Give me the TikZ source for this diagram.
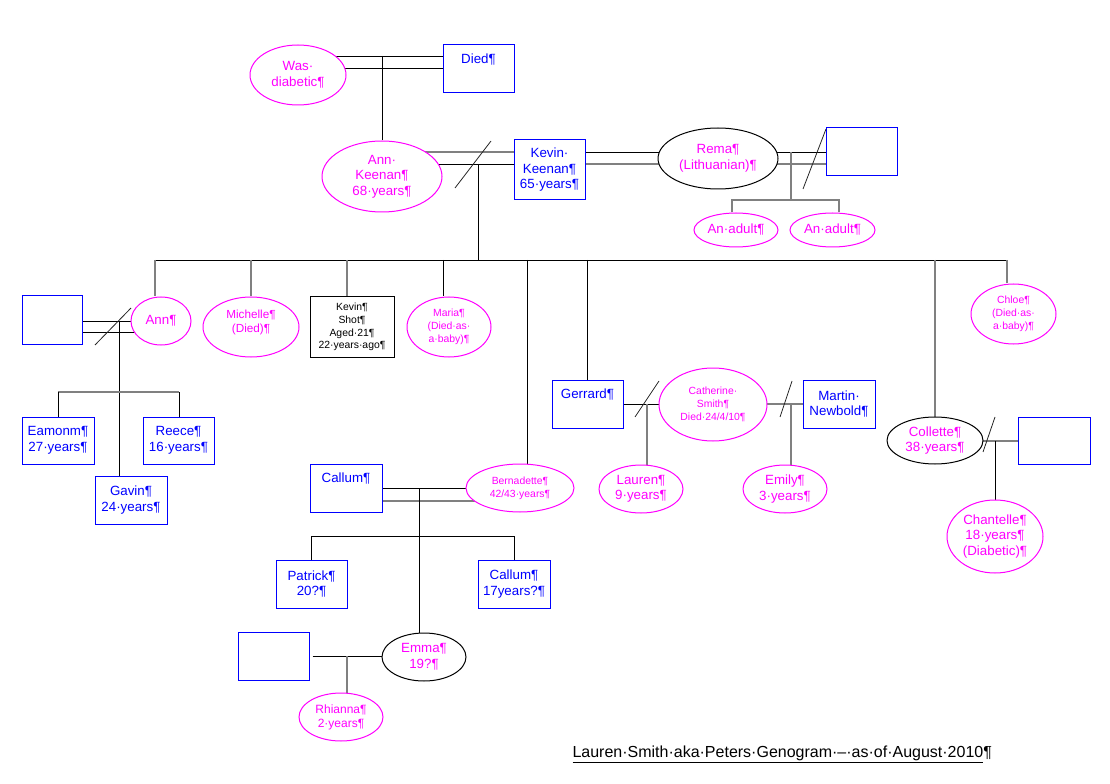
\documentclass[tikz,border=0pt]{standalone}
\usepackage{fontspec}
\setmainfont{Liberation Sans}
\usetikzlibrary{shapes.geometric,calc}
\definecolor{mag}{RGB}{255,0,255}
\definecolor{blu}{RGB}{0,0,255}
\definecolor{gln}{RGB}{128,128,128}
\pgfdeclarelayer{bg}
\pgfsetlayers{bg,main}
\newcommand{\gmf}{\fontsize{10}{11.6}\selectfont}
\newcommand{\gsf}{\fontsize{7.8}{9.6}\selectfont}
\newcommand{\grf}{\fontsize{9}{10.5}\selectfont}
\newcommand{\gmi}{\fontsize{8.8}{10.4}\selectfont}
\tikzset{
  fem/.style 2 args={ellipse, draw=mag, fill=white, text=mag, minimum width=#1*0.75pt, minimum height=#2*0.75pt, inner sep=0pt, align=center, font=\gmf},
  femk/.style 2 args={ellipse, draw=black, fill=white, text=mag, minimum width=#1*0.75pt, minimum height=#2*0.75pt, inner sep=0pt, align=center, font=\gmf},
  male/.style 2 args={rectangle, draw=blu, fill=white, text=blu, minimum width=#1*0.75pt, minimum height=#2*0.75pt, inner sep=0pt, align=center, font=\gmf},
  blkbox/.style 2 args={rectangle, draw=black, fill=white, text=black, minimum width=#1*0.75pt, minimum height=#2*0.75pt, inner sep=0pt, align=center, font=\gsf},
  gry/.style={draw=gln, line width=1.5pt},
  sl/.style={draw=black!85, line width=0.6pt},
  toplbl/.style={anchor=north, text=blu, font=\gmf, yshift=-3pt}
}
\begin{document}
\begin{tikzpicture}[x=0.75pt,y=-0.75pt,line width=0.75pt]
\useasboundingbox (0,0) rectangle (1110,784);

% nodes
\node[fem={96}{60}] (wd) at (298,75) {Was·\\diabetic¶};
\node[male={71}{48}, label={[toplbl]north:Died¶}] (died) at (478.5,69) {};
\node[fem={120}{71}] (ak) at (382,176.5) {Ann·\\Keenan¶\\68·years¶};
\node[male={71}{60}] (kk) at (549.5,170) {Kevin·\\Keenan¶\\65·years¶};
\node[femk={120}{61}] (rema) at (718,158.5) {Rema¶\\(Lithuanian)¶};
\node[male={71}{48}] (rbox) at (861.5,152) {};
\node[fem={84}{34}] (ad1) at (736,230) {An·adult¶};
\node[fem={85}{34}] (ad2) at (832.5,230) {An·adult¶};

\node[male={60}{48}] (lbox) at (52,320) {};
\node[fem={60}{48}] (ann) at (161,321) {Ann¶};
\node[fem={96}{60}, label={[text=mag, font=\gmi, align=center, yshift=3.5pt]center:Michelle¶\\(Died)¶}] (mich) at (251,327) {};
\node[blkbox={84}{60}] (kev) at (352,327) {Kevin¶\\Shot¶\\Aged·21¶\\22·years·ago¶};
\node[fem={84}{60}, font=\gsf] (maria) at (449,327) {Maria¶\\(Died·as·\\a·baby)¶};
\node[fem={85}{60}, font=\gsf] (chloe) at (1013.5,314) {Chloe¶\\(Died·as·\\a·baby)¶};

\node[male={72}{47}] (eam) at (58,440.5) {Eamonm¶\\27·years¶};
\node[male={71}{47}] (reece) at (178.5,440.5) {Reece¶\\16·years¶};
\node[male={72}{48}] (gavin) at (131,500) {Gavin¶\\24·years¶};

\node[male={71}{48}, label={[toplbl]north:Gerrard¶}] (ger) at (587.5,404) {};
\node[fem={108}{73}, font=\gsf] (cath) at (713,404.5) {Catherine·\\Smith¶\\Died·24/4/10¶};
\node[male={72}{48}] (mart) at (839,404) {Martin·\\Newbold¶};
\node[fem={84}{48}] (laur) at (641,489) {Lauren¶\\9·years¶};
\node[fem={84}{48}] (emily) at (785,489) {Emily¶\\3·years¶};

\node[femk={96}{47}] (coll) at (935,440.5) {Collette¶\\38·years¶};
\node[male={72}{47}] (cbox) at (1054.5,440.5) {};
\node[fem={96}{73}] (chan) at (995,536.5) {Chantelle¶\\18·years¶\\(Diabetic)¶};

\node[male={72}{48}, label={[toplbl]north:Callum¶}] (cal) at (346,488) {};
\node[fem={108}{48}, font=\gsf] (bern) at (520,488) {Bernadette¶\\42/43·years¶};
\node[male={71}{48}] (pat) at (311.5,584) {Patrick¶\\20?¶};
\node[male={72}{48}] (cal2) at (514,584) {Callum¶\\17years?¶};
\node[femk={84}{48}] (emma) at (424,657) {Emma¶\\19?¶};
\node[male={71}{48}] (ebox) at (273.5,656) {};
\node[fem={84}{48}, font=\grf] (rhi) at (341,717) {Rhianna¶\\2·years¶};

\node[anchor=base west, inner sep=0pt, font=\fontsize{12}{14}\selectfont] (title) at (572,757) {\underline{Lauren·Smith·aka·Peters·Genogram·–·as·of·August·2010}¶};

\coordinate (sib) at (478,260);

\begin{pgfonlayer}{bg}
% grandparents
\draw (wd.center |- 0,56) -- (died.west |- 0,56);
\draw (wd.center |- 0,68) -- (died.west |- 0,68);
\draw (ak.north |- 0,56) -- (ak.north);
% Ann Keenan - Kevin Keenan
\draw[gry] (ak.center |- 0,152) -- (kk.west |- 0,152);
\draw (ak.center |- 0,164) -- (kk.west |- 0,164);
\draw (sib |- 0,164) -- (sib);
% Kevin - Rema - partner
\draw (kk.east |- 0,152) -- (rema.center |- 0,152);
\draw[gry] (kk.east |- 0,164) -- (rema.center |- 0,164);
\draw (rema.center |- 0,152) -- (rbox.west |- 0,152);
\draw[gry] (rema.center |- 0,164) -- (rbox.west |- 0,164);
\draw[gry] (791,152) -- (791,200);
\draw[gry] (ad1.north -| 732,0) -- (732,200) -- (839,200) -- (ad2.north -| 839,0);
% sibling line
\draw (155,260) -- (1007,260);
\draw[gry] (155,260) -- (ann.north -| 155,0);
\draw[gry] (251,260) -- (mich.north);
\draw[gry] (347,260) -- (kev.north -| 347,0);
\draw (443,260) -- (maria.north -| 443,0);
\draw (527,260) -- (bern.north -| 527,0);
\draw (587,260) -- (ger.north -| 587,0);
\draw[gry] (935,260) -- (coll.north);
\draw[gry] (1007,260) -- (chloe.north -| 1007,0);
% Ann's family
\draw (lbox.east |- 0,321) -- (ann.center |- 0,321);
\draw (lbox.east |- 0,332) -- (ann.center |- 0,332);
\draw (119,321) -- (gavin.north -| 119,0);
\draw[gry] (58,392) -- (179,392);
\draw (eam.north |- 0,392) -- (eam.north);
\draw (179,392) -- (reece.north -| 179,0);
% Gerrard - Catherine - Martin
\draw (ger.east) -- (cath.center |- ger.east);
\draw[gry] (647,404) -- (laur.north -| 647,0);
\draw[gry] (cath.center |- mart.west) -- (mart.west);
\draw[gry] (791,404) -- (emily.north -| 791,0);
% Collette
\draw[gry] (coll.center |- cbox.west) -- (cbox.west);
\draw (995,441) -- (chan.north);
% Callum - Bernadette
\draw (cal.east) -- (bern.center |- cal.east);
\draw[gry] (cal.east |- 0,501) -- (bern.center |- 0,501);
\draw (419,488) -- (emma.north -| 419,0);
\draw (pat.north |- 0,536) -- (cal2.north |- 0,536);
\draw (pat.north |- 0,536) -- (pat.north);
\draw (cal2.north |- 0,536) -- (cal2.north);
% Emma
\draw ([xshift=2.25pt]ebox.east |- 0,656) -- (emma.center |- 0,656);
\draw[gry] (347,656) -- (rhi.north -| 347,0);
\end{pgfonlayer}

% divorce slashes
\draw[sl] (455,188) -- (491,141);
\draw[sl] (803,189) -- (826,129);
\draw[sl] (95,345) -- (131,308);
\draw[sl] (635,417) -- (659,381);
\draw[sl] (780,417) -- (792,381);
\draw[sl] (983,452) -- (995,417);
\end{tikzpicture}
\end{document}
